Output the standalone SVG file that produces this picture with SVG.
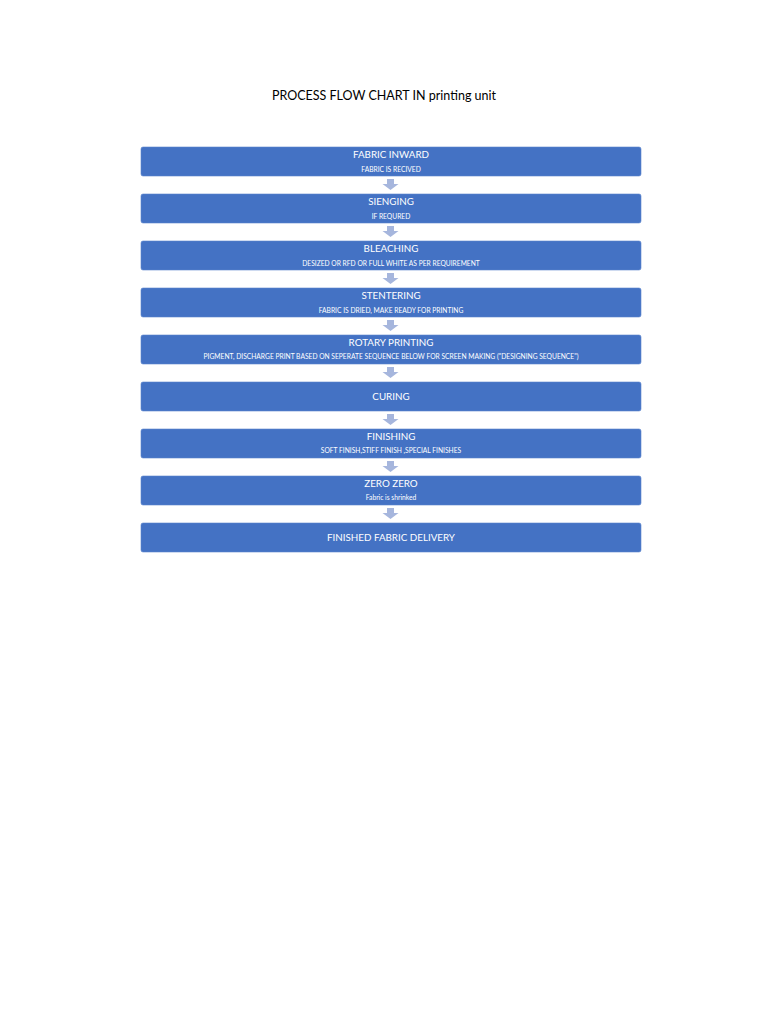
<svg xmlns="http://www.w3.org/2000/svg" width="768" height="1024" viewBox="0 0 768 1024">
<style>
.box{fill:#4472C4;stroke:#5B84CC;stroke-width:0.6}
.t{font-family:Lato,"Liberation Sans",sans-serif;fill:#fff;text-anchor:middle;font-size:9.8px}
.s{font-family:Lato,"Liberation Sans",sans-serif;fill:#fff;text-anchor:middle;font-size:6.7px}
.arr{fill:#A6B6DD}
</style>
<rect width="768" height="1024" fill="#fff"/>
<text x="384" y="100" font-family="Lato,'Liberation Sans',sans-serif" font-size="12.5" text-anchor="middle" fill="#000">PROCESS FLOW CHART IN printing unit</text>
<g id="connectors">
<path class="arr" d="M387,179h7v5h4.5l-8,6l-8,-6h4.5z"/>
<path class="arr" d="M387,226h7v5h4.5l-8,6l-8,-6h4.5z"/>
<path class="arr" d="M387,273h7v5h4.5l-8,6l-8,-6h4.5z"/>
<path class="arr" d="M387,320h7v5h4.5l-8,6l-8,-6h4.5z"/>
<path class="arr" d="M387,367h7v5h4.5l-8,6l-8,-6h4.5z"/>
<path class="arr" d="M387,414h7v5h4.5l-8,6l-8,-6h4.5z"/>
<path class="arr" d="M387,461h7v5h4.5l-8,6l-8,-6h4.5z"/>
<path class="arr" d="M387,508h7v5h4.5l-8,6l-8,-6h4.5z"/>
</g>
<g id="n1"><rect class="box" x="141" y="147" width="500" height="29" rx="2"/><text class="t" x="391" y="158">FABRIC INWARD</text><text class="s" x="391" y="171.5">FABRIC IS RECIVED</text></g>
<g id="n2"><rect class="box" x="141" y="194" width="500" height="29" rx="2"/><text class="t" x="391" y="205">SIENGING</text><text class="s" x="391" y="218.5">IF REQURED</text></g>
<g id="n3"><rect class="box" x="141" y="241" width="500" height="29" rx="2"/><text class="t" x="391" y="252">BLEACHING</text><text class="s" x="391" y="265.5">DESIZED OR RFD OR FULL WHITE AS PER REQUIREMENT</text></g>
<g id="n4"><rect class="box" x="141" y="288" width="500" height="29" rx="2"/><text class="t" x="391" y="299">STENTERING</text><text class="s" x="391" y="312.5">FABRIC IS DRIED, MAKE READY FOR PRINTING</text></g>
<g id="n5"><rect class="box" x="141" y="335" width="500" height="29" rx="2"/><text class="t" x="391" y="346">ROTARY PRINTING</text><text class="s" x="391" y="358.5">PIGMENT, DISCHARGE PRINT  BASED ON SEPERATE SEQUENCE BELOW FOR SCREEN MAKING ("DESIGNING SEQUENCE")</text></g>
<g id="n6"><rect class="box" x="141" y="382" width="500" height="29" rx="2"/><text class="t" x="391" y="399.5">CURING</text></g>
<g id="n7"><rect class="box" x="141" y="429" width="500" height="29" rx="2"/><text class="t" x="391" y="440">FINISHING</text><text class="s" x="391" y="452.5">SOFT FINISH,STIFF FINISH ,SPECIAL FINISHES</text></g>
<g id="n8"><rect class="box" x="141" y="476" width="500" height="29" rx="2"/><text class="t" x="391" y="487">ZERO ZERO</text><text class="s" x="391" y="499.5">Fabric is shrinked</text></g>
<g id="n9"><rect class="box" x="141" y="523" width="500" height="29" rx="2"/><text class="t" x="391" y="540.5">FINISHED FABRIC DELIVERY</text></g>
</svg>
